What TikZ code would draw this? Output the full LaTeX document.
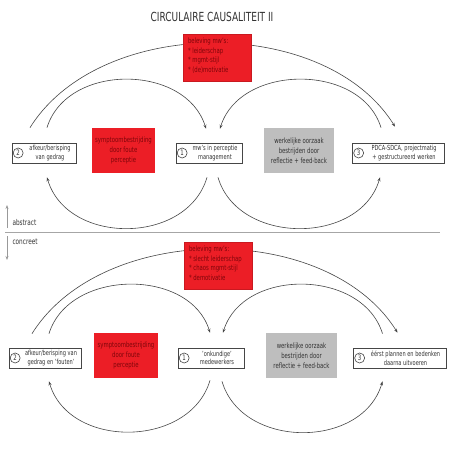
\documentclass[tikz,border=0pt]{standalone}
\usepackage{fontspec}
\setmainfont{DejaVu Sans}[FakeStretch=0.72]
\usepackage{tikz}
\usetikzlibrary{arrows.meta, positioning, calc}
\definecolor{boxred}{RGB}{236, 30, 38}
\definecolor{textred}{RGB}{125, 5, 10}
\definecolor{boxgray}{RGB}{190, 190, 190}
\definecolor{linegray}{RGB}{70, 70, 70}
\definecolor{titlegray}{RGB}{50, 50, 50}

\tikzset{
  stapbox/.style={draw=linegray, line width=0.7pt, fill=white, minimum height=20pt, inner sep=0pt},
  staptekst/.style={font=\fontsize{7}{8.5}\selectfont, text=titlegray, align=center, inner sep=0pt},
  nummer/.style={draw=linegray, circle, line width=0.6pt, minimum size=10pt, inner sep=0pt, font=\fontsize{7.5}{8}\selectfont, text=titlegray},
  belevingbox/.style={fill=boxred, draw=boxred!85!black, line width=0.4pt, minimum width=68pt, minimum height=47pt, inner sep=0pt},
  belevingtekst/.style={font=\fontsize{7.4}{9.5}\selectfont, text=textred, align=left, inner sep=0pt},
  symptoombox/.style={fill=boxred, minimum height=45pt, inner sep=0pt, font=\fontsize{7.4}{10}\selectfont, text=textred, align=center},
  oorzaakbox/.style={fill=boxgray, minimum height=45pt, inner sep=0pt, font=\fontsize{7.4}{10}\selectfont, text=titlegray, align=center},
  boog/.style={draw=linegray, line width=0.6pt},
  boogpijl/.style={boog, -{Stealth[length=4pt, width=3pt]}},
}

\begin{document}
\begin{tikzpicture}[x=1pt, y=-1pt]
  \useasboundingbox (0,0) rectangle (452,452);

  % Title
  \node[font=\fontsize{12.5}{14}\selectfont, text=titlegray] (titel) at (212,17) {CIRCULAIRE CAUSALITEIT II};

  % ---------- Upper half: abstract ----------
  \node[stapbox, minimum width=64pt] (b2) at (44,153) {};
  \node[stapbox, minimum width=66pt] (b1) at (209,153) {};
  \node[stapbox, minimum width=92pt] (b3) at (398,153) {};
  \node[nummer] (n2) at ([xshift=6.5pt]b2.west) {2};
  \node[nummer] (n1) at ([xshift=6.5pt]b1.west) {1};
  \node[nummer] (n3) at ([xshift=7pt]b3.west) {3};
  \node[staptekst] (t2) at ([xshift=6pt]b2.center) {afkeur/berisping\\van gedrag};
  \node[staptekst] (t1) at ([xshift=6pt]b1.center) {mw's in perceptie\\management};
  \node[staptekst] (t3) at ([xshift=6pt]b3.center) {PDCA-SDCA, projectmatig\\+ gestructureerd werken};

  % Arcs (drawn before the filled boxes)
  \draw[boogpijl] ([shift={(-14,-15)}]b2.north) .. controls +(70,-112) and +(-70,-112) .. ([shift={(-3,-16)}]b3.north);
  \draw[boogpijl] ([shift={(3,-15)}]b2.north) .. controls +(20,-65) and +(-20,-65) .. ([shift={(-3,-14)}]b1.north);
  \draw[boogpijl] ([shift={(-17,-15)}]b3.north) .. controls +(-20,-65) and +(20,-65) .. ([shift={(11,-14)}]b1.north);
  \draw[boogpijl] ([shift={(-2,14)}]b1.south) .. controls +(-20,68) and +(20,68) .. ([shift={(3,14)}]b2.south);
  \draw[boogpijl] ([shift={(9,14)}]b1.south) .. controls +(20,68) and +(-20,68) .. ([shift={(-18,14)}]b3.south);

  % Filled boxes
  \node[belevingbox] (perc1) at (217,57.5) {};
  \node[belevingtekst, anchor=north west] (pt1) at ([shift={(5,4)}]perc1.north west) {beleving mw's:\\* leiderschap\\* mgmt-stijl\\* (de)motivatie};
  \node[symptoombox, minimum width=63pt] (symp1) at (123.5,150.5) {symptoombestrijding\\door foute\\perceptie};
  \node[oorzaakbox, minimum width=70pt] (oorz1) at (299,150.5) {werkelijke oorzaak\\bestrijden door\\reflectie + feed-back};

  % Separator
  \coordinate (sepL) at (5,232);
  \coordinate (sepR) at (440,232);
  \draw[gray!70, line width=0.6pt] (sepL) -- (sepR);
  \node[font=\fontsize{8}{10}\selectfont, text=titlegray, anchor=west] (abstr) at (9,223) {abstract};
  \node[font=\fontsize{8}{10}\selectfont, text=titlegray, anchor=west] (concr) at (9,242) {concreet};
  \coordinate (abOnder) at (7,228);
  \coordinate (abBoven) at (7,205);
  \coordinate (coBoven) at (7,236);
  \coordinate (coOnder) at (7,260);
  \draw[-{Stealth[length=4pt, width=3pt]}, gray!80, line width=0.6pt] (abOnder) -- (abBoven);
  \draw[-{Stealth[length=4pt, width=3pt]}, gray!80, line width=0.6pt] (coBoven) -- (coOnder);

  % ---------- Lower half: concreet ----------
  \node[stapbox, minimum width=72pt] (c2) at (45,358) {};
  \node[stapbox, minimum width=66pt] (c1) at (211,358) {};
  \node[stapbox, minimum width=93pt] (c3) at (399.5,358) {};
  \node[nummer] (m2) at ([xshift=6.5pt]c2.west) {2};
  \node[nummer] (m1) at ([xshift=6.5pt]c1.west) {1};
  \node[nummer] (m3) at ([xshift=7pt]c3.west) {3};
  \node[staptekst] (s2) at ([xshift=6pt]c2.center) {afkeur/berisping van\\gedrag en 'fouten'};
  \node[staptekst] (s1) at ([xshift=6pt]c1.center) {'onkundige'\\medewerkers};
  \node[staptekst] (s3) at ([xshift=6pt]c3.center) {éérst plannen en bedenken\\daarna uitvoeren};

  % Arcs
  \draw[boogpijl] ([shift={(-13,-14)}]c2.north) .. controls +(70,-112) and +(-70,-112) .. ([shift={(-2,-15)}]c3.north);
  \draw[boogpijl] ([shift={(4,-14)}]c2.north) .. controls +(20,-65) and +(-20,-65) .. ([shift={(-1,-15)}]c1.north);
  \draw[boogpijl] ([shift={(-17,-14)}]c3.north) .. controls +(-20,-65) and +(20,-65) .. ([shift={(12,-15)}]c1.north);
  \draw[boogpijl] ([shift={(-1,12)}]c1.south) .. controls +(-20,68) and +(20,68) .. ([shift={(4,13)}]c2.south);
  \draw[boogpijl] ([shift={(11,13)}]c1.south) .. controls +(20,68) and +(-20,68) .. ([shift={(-17,13)}]c3.south);

  % Filled boxes
  \node[belevingbox] (perc2) at (218,265.5) {};
  \node[belevingtekst, anchor=north west] (pt2) at ([shift={(5,4)}]perc2.north west) {beleving mw's:\\* slecht leiderschap\\* chaos mgmt-stijl\\* demotivatie};
  \node[symptoombox, minimum width=64pt] (symp2) at (126,355.5) {symptoombestrijding\\door foute\\perceptie};
  \node[oorzaakbox, minimum width=71pt] (oorz2) at (301.5,355.5) {werkelijke oorzaak\\bestrijden door\\reflectie + feed-back};
\end{tikzpicture}
\end{document}
